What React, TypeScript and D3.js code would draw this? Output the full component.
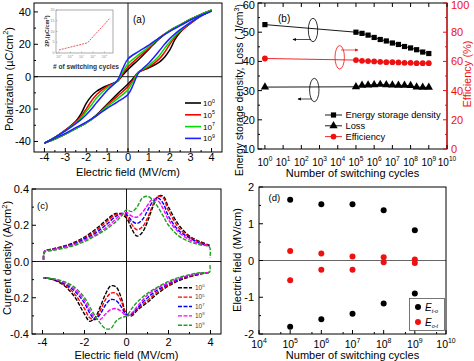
import React from "react";
import * as d3 from "d3";

const FONT = "'Liberation Sans', Arial, Helvetica, sans-serif";

// ================= Panel (a): P-E loops =================
const aTickX = [-4, -3, -2, -1, 0, 1, 2, 3, 4];
const aMinorX = [-3.5, -2.5, -1.5, -0.5, 0.5, 1.5, 2.5, 3.5];
const aTickY = [-40, -20, 0, 20, 40];
const aMinorY = [-30, -10, 10, 30];
const loopExp = ["0", "5", "7", "9"];
const loopColor = ["#000000", "#ff0000", "#00dd00", "#2020ff"];
const riseE = [-4, -3.5, -3, -2.5, -2, -1.5, -1, -0.5, 0, 0.25, 0.5, 1, 1.5, 1.75, 2, 2.25, 2.5, 3, 3.5, 4];
const fallE = [4, 3.5, 3, 2.5, 2, 1.5, 1, 0.5, 0, -0.25, -0.5, -1, -1.5, -1.75, -2, -2.25, -2.5, -3, -3.5, -4];
const riseP0 = [-41, -38.5, -35.5, -32, -28.5, -23.5, -17, -10.5, -4.5, -1, 2.7, 5.5, 9, 12, 16.5, 23, 27.5, 33, 37.5, 41];
const riseP5 = [-41, -38.5, -35.5, -32, -28.5, -24, -17.5, -12, -6, -2, 2.8, 6, 11, 15, 20, 24.5, 28, 33, 37.5, 41];
const riseP7 = [-41, -38.5, -35.5, -32, -28.5, -24, -18.5, -13.5, -8, -3, 2.7, 7, 13, 17.5, 21.5, 25.5, 28.5, 33.5, 37.5, 41];
const riseP9 = [-41, -38, -35, -31.5, -28, -24, -19.5, -15.5, -11, -5, 2.2, 8.5, 16, 20, 23.5, 26.5, 29, 33.5, 37.5, 40.5];
const fallP0 = [41, 38.5, 35.5, 32, 28.5, 23.5, 17, 10.5, 4.5, 1, -2.7, -5.5, -9, -12, -16.5, -23, -27.5, -33, -37.5, -41];
const fallP5 = [41, 38.5, 35.5, 32, 28.5, 24, 17.5, 12, 6, 2, -2.8, -6, -11, -15, -20, -24.5, -28, -33, -37.5, -41];
const fallP7 = [41, 38.5, 35.5, 32, 28.5, 24, 18.5, 13.5, 8, 3, -2.7, -7, -13, -17.5, -21.5, -25.5, -28.5, -33.5, -37.5, -41];
const fallP9 = [40.5, 38, 35, 31.5, 28, 24, 19.5, 15.5, 11, 5, -2.2, -8.5, -16, -20, -23.5, -26.5, -29, -33.5, -37.5, -41];
const riseAll = [riseP0, riseP5, riseP7, riseP9];
const fallAll = [fallP0, fallP5, fallP7, fallP9];

// inset
const insetCycles = [1, 1e5, 1e6, 1e7, 1e8, 1e9];
const inset2Pr = [1.4, 4.7, 7.6, 10.5, 13.4, 16.3];
const insetTickX = [1, 1e2, 1e4, 1e6, 1e8];
const insetTickXLab = ["0", "2", "4", "6", "8"];
const insetTickY = [0, 5, 10, 15, 20];

// ================= Panel (b) =================
const bCycles = [1, 1e5, 2.15e5, 4.64e5, 1e6, 2.15e6, 4.64e6, 1e7, 2.15e7, 4.64e7, 1e8, 2.15e8, 4.64e8, 1e9];
const bEnergy = [52.6, 50.0, 49.6, 49.0, 48.2, 47.5, 47.0, 46.3, 45.8, 45.1, 44.6, 44.0, 43.2, 42.7];
const bLoss = [31.2, 31.3, 31.8, 31.9, 32.0, 32.1, 32.0, 31.9, 31.8, 31.8, 31.7, 31.2, 31.1, 31.1];
const bEff = [62.0, 60.9, 60.4, 60.2, 60.0, 59.7, 59.5, 59.5, 59.3, 59.0, 59.0, 58.8, 58.8, 58.8];
const bDecades = [0, 1, 2, 3, 4, 5, 6, 7, 8, 9, 10];
const bTickY = [10, 20, 30, 40, 50, 60];
const bMinorY = [15, 25, 35, 45, 55];
const bTickY2 = [0, 20, 40, 60, 80, 100];
const bMinorY2 = [10, 30, 50, 70, 90];
const bLegend = ["Energy storage density", "Loss", "Efficiency"];

// ================= Panel (c) =================
const cExp = ["0", "5", "7", "8", "9"];
const cColor = ["#000000", "#ff0000", "#0000ff", "#ff00ff", "#1e9e1e"];
const cRiseE = [-3.95, -3.9, -3.5, -3, -2.5, -2, -1.5, -1, -0.5, -0.25, 0, 0.25, 0.5, 0.75, 1, 1.25, 1.5, 1.75, 2, 2.5, 3, 3.5, 3.95];
const cRiseEGreen = [-3.95, -3.9, -3.5, -3, -2.5, -2, -1.5, -1, -0.5, -0.25, 0, 0.25, 0.5, 0.75, 1, 1.25, 1.5, 1.75, 2, 2.5, 3, 3.5, 3.95, 3.97];
const cRise0 = [0.01, 0.055, 0.07, 0.085, 0.105, 0.135, 0.175, 0.225, 0.265, 0.26, 0.24, 0.18, 0.14, 0.16, 0.22, 0.3, 0.36, 0.36, 0.3, 0.2, 0.14, 0.11, 0.09];
const cRise5 = [0.01, 0.055, 0.068, 0.083, 0.1, 0.13, 0.165, 0.215, 0.26, 0.265, 0.25, 0.205, 0.175, 0.19, 0.24, 0.31, 0.36, 0.35, 0.28, 0.185, 0.135, 0.105, 0.088];
const cRise7 = [0.01, 0.055, 0.067, 0.08, 0.097, 0.125, 0.155, 0.2, 0.25, 0.265, 0.26, 0.225, 0.21, 0.23, 0.28, 0.33, 0.35, 0.32, 0.25, 0.17, 0.13, 0.1, 0.087];
const cRise8 = [0.01, 0.055, 0.065, 0.077, 0.093, 0.118, 0.145, 0.185, 0.235, 0.26, 0.27, 0.25, 0.245, 0.27, 0.31, 0.345, 0.335, 0.29, 0.23, 0.16, 0.12, 0.098, 0.086];
const cRise9 = [0.01, 0.05, 0.062, 0.073, 0.088, 0.11, 0.14, 0.175, 0.22, 0.25, 0.285, 0.275, 0.3, 0.35, 0.36, 0.34, 0.3, 0.25, 0.2, 0.14, 0.11, 0.092, 0.08, 0.02];
const cFallE = [3.95, 3.5, 3, 2.5, 2, 1.5, 1, 0.5, 0.25, 0, -0.25, -0.5, -0.75, -1, -1.25, -1.5, -1.75, -2, -2.5, -3, -3.5, -3.95];
const cFallEGreen = [3.97, 3.95, 3.5, 3, 2.5, 2, 1.5, 1, 0.5, 0.25, 0, -0.25, -0.5, -0.75, -1, -1.25, -1.5, -1.75, -2, -2.5, -3, -3.5, -3.95];
const cFall0 = [-0.06, -0.07, -0.085, -0.105, -0.135, -0.175, -0.225, -0.27, -0.3, -0.29, -0.2, -0.14, -0.135, -0.18, -0.25, -0.31, -0.33, -0.29, -0.19, -0.13, -0.1, -0.09];
const cFall5 = [-0.06, -0.068, -0.083, -0.1, -0.13, -0.165, -0.215, -0.265, -0.295, -0.29, -0.22, -0.175, -0.175, -0.21, -0.27, -0.32, -0.31, -0.26, -0.175, -0.125, -0.1, -0.09];
const cFall7 = [-0.06, -0.067, -0.08, -0.097, -0.125, -0.155, -0.2, -0.26, -0.29, -0.295, -0.25, -0.215, -0.21, -0.24, -0.29, -0.32, -0.285, -0.23, -0.16, -0.12, -0.098, -0.09];
const cFall8 = [-0.06, -0.065, -0.077, -0.093, -0.118, -0.145, -0.185, -0.25, -0.285, -0.3, -0.275, -0.26, -0.265, -0.29, -0.32, -0.31, -0.27, -0.215, -0.15, -0.115, -0.096, -0.09];
const cFall9 = [-0.02, -0.06, -0.062, -0.073, -0.088, -0.11, -0.14, -0.175, -0.225, -0.26, -0.3, -0.31, -0.33, -0.37, -0.37, -0.34, -0.3, -0.25, -0.2, -0.14, -0.11, -0.095, -0.09];
const cRiseAll = [cRise0, cRise5, cRise7, cRise8, cRise9];
const cFallAll = [cFall0, cFall5, cFall7, cFall8, cFall9];
const cTickX = [-4, -2, 0, 2, 4];
const cMinorX = [-3, -1, 1, 3];
const cTickY = [-0.4, -0.2, 0, 0.2, 0.4];
const cTickYLab = ["-0.4", "-0.2", "0.0", "0.2", "0.4"];
const cMinorY = [-0.3, -0.1, 0.1, 0.3];

// ================= Panel (d) =================
const dCycles = [1e5, 1e6, 1e7, 1e8, 1e9];
const dEtoPos = [1.65, 1.53, 1.53, 1.37, 0.82];
const dEtoNeg = [-1.8, -1.6, -1.45, -1.17, -0.9];
const dEotPos = [0.26, 0.19, 0.11, 0.09, 0.03];
const dEotNeg = [-0.54, -0.25, -0.25, -0.05, -0.07];
const dDecades = [4, 5, 6, 7, 8, 9, 10];
const dTickY = [-2, -1, 0, 1, 2];
const dMinorY = [-1.5, -0.5, 0.5, 1.5];

const RED = "#ee1111";

function zip(a: number[], b: number[]): [number, number][] {
  return a.map((v, i) => [v, b[i]] as [number, number]);
}

export default function App() {
  const xA = d3.scaleLinear().domain([-4.5, 4.5]).range([34, 222]);
  const yA = d3.scaleLinear().domain([-46.5, 45.5]).range([152, 3]);
  const xIn = d3.scaleLog().domain([Math.pow(10, -0.5), Math.pow(10, 9.5)]).range([56, 113]);
  const yIn = d3.scaleLinear().domain([0, 20]).range([53, 10]);
  const xB = d3.scaleLog().domain([Math.pow(10, -0.38), 1e10]).range([258, 447]);
  const yB = d3.scaleLinear().domain([10, 60]).range([149, 3]);
  const yB2 = d3.scaleLinear().domain([0, 100]).range([149, 3]);
  const xC = d3.scaleLinear().domain([-4.5, 4.5]).range([32, 221]);
  const yC = d3.scaleLinear().domain([-0.4, 0.4]).range([334, 189]);
  const xD = d3.scaleLog().domain([1e4, 1e10]).range([259, 446]);
  const yD = d3.scaleLinear().domain([-2, 2]).range([334, 187]);

  const lineA = d3.line<[number, number]>().x(d => xA(d[0])).y(d => yA(d[1])).curve(d3.curveCatmullRom.alpha(0.5));
  const lineIn = d3.line<[number, number]>().x(d => xIn(d[0])).y(d => yIn(d[1]));
  const lineB = d3.line<[number, number]>().x(d => xB(d[0])).y(d => yB(d[1]));
  const lineB2 = d3.line<[number, number]>().x(d => xB(d[0])).y(d => yB2(d[1]));
  const lineC = d3.line<[number, number]>().x(d => xC(d[0])).y(d => yC(d[1])).curve(d3.curveCatmullRom.alpha(0.5));
  const tri = d3.symbol().type(d3.symbolTriangle).size(30)() || "";

  const fs = 11;
  const sup = (base: string, e: string, size = fs, x?: number, y?: number, anchor = "middle", fill = "#000") => (
    <text x={x} y={y} textAnchor={anchor} fontSize={size} fill={fill}>
      {base}
      <tspan dy={-size * 0.42} fontSize={size * 0.66}>{e}</tspan>
    </text>
  );

  const A = { l: 34, r: 222, t: 3, b: 152 };
  const B = { l: 258, r: 447, t: 3, b: 149 };
  const C = { l: 32, r: 221, t: 189, b: 334 };
  const D = { l: 259, r: 446, t: 187, b: 334 };
  const maj = 4, mnr = 2;

  return (
    <svg width={474} height={361} style={{ position: "absolute", left: 0, top: 0, display: "block" }} fontFamily={FONT}>
      <defs>
        <marker id="arrK" viewBox="0 0 6 6" refX="5" refY="3" markerWidth="5" markerHeight="5" orient="auto">
          <path d="M0,0.5 L6,3 L0,5.5 Z" fill="#000" />
        </marker>
        <marker id="arrR" viewBox="0 0 6 6" refX="5" refY="3" markerWidth="5" markerHeight="5" orient="auto">
          <path d="M0,0.5 L6,3 L0,5.5 Z" fill={RED} />
        </marker>
      </defs>
      <rect x={0} y={0} width={474} height={361} fill="#fff" />

      {/* ================= Panel (a) ================= */}
      <g>
        <line x1={A.l} x2={A.r} y1={yA(0)} y2={yA(0)} stroke="#000" strokeWidth={0.9} />
        <line x1={xA(0)} x2={xA(0)} y1={A.t} y2={A.b} stroke="#000" strokeWidth={0.9} />
        {riseAll.map((p, i) => (
          <path key={"ra" + i} d={lineA(zip(riseE, p)) || ""} fill="none" stroke={loopColor[i]} strokeWidth={1.5} />
        ))}
        {fallAll.map((p, i) => (
          <path key={"fa" + i} d={lineA(zip(fallE, p)) || ""} fill="none" stroke={loopColor[i]} strokeWidth={1.5} />
        ))}
        <rect x={A.l} y={A.t} width={A.r - A.l} height={A.b - A.t} fill="none" stroke="#000" strokeWidth={1} />
        {aTickX.map(v => <line key={"atx" + v} x1={xA(v)} x2={xA(v)} y1={A.b} y2={A.b - maj} stroke="#000" />)}
        {aMinorX.map(v => <line key={"amx" + v} x1={xA(v)} x2={xA(v)} y1={A.b} y2={A.b - mnr} stroke="#000" />)}
        {aTickY.map(v => <line key={"aty" + v} x1={A.l} x2={A.l + maj} y1={yA(v)} y2={yA(v)} stroke="#000" />)}
        {aMinorY.map(v => <line key={"amy" + v} x1={A.l} x2={A.l + mnr} y1={yA(v)} y2={yA(v)} stroke="#000" />)}
        {aTickX.map(v => <text key={"atl" + v} x={xA(v)} y={161} textAnchor="middle" fontSize={fs}>{String(v)}</text>)}
        {aTickY.map(v => <text key={"ayl" + v} x={31} y={yA(v) + 4} textAnchor="end" fontSize={fs}>{String(v)}</text>)}
        <text x={(A.l + A.r) / 2} y={175.5} textAnchor="middle" fontSize={fs}>Electric field (MV/cm)</text>
        <text transform={`translate(12.5, 79) rotate(-90)`} textAnchor="middle" fontSize={fs}>
          Polarization (µC/cm<tspan dy={-4.5} fontSize={7.5}>2</tspan><tspan dy={4.5}>)</tspan>
        </text>
        <text x={133} y={23} fontSize={10}>(a)</text>
        {loopExp.map((e, i) => (
          <g key={"la" + i}>
            <line x1={185} x2={201} y1={103 + i * 11.8} y2={103 + i * 11.8} stroke={loopColor[i]} strokeWidth={1.6} />
            {sup("10", e, 8, 203, 106 + i * 11.8, "start")}
          </g>
        ))}
        {/* inset */}
        <rect x={56} y={10} width={57} height={43} fill="#fff" stroke="#888" strokeWidth={0.7} />
        <path d={lineIn(zip(insetCycles, inset2Pr)) || ""} fill="none" stroke="#e03030" strokeWidth={0.8} strokeDasharray="2 1" />
        {insetTickX.map((v, i) => (
          <g key={"itx" + i}>
            <line x1={xIn(v)} x2={xIn(v)} y1={53} y2={51.5} stroke="#888" strokeWidth={0.5} />
            <text x={xIn(v)} y={57.5} textAnchor="middle" fontSize={3.5} fill="#888">10<tspan dy={-1.5} fontSize={2.5}>{insetTickXLab[i]}</tspan></text>
          </g>
        ))}
        {insetTickY.map(v => (
          <g key={"ity" + v}>
            <line x1={56} x2={57.5} y1={yIn(v)} y2={yIn(v)} stroke="#888" strokeWidth={0.5} />
            <text x={54.5} y={yIn(v) + 1.2} textAnchor="end" fontSize={3.5} fill="#888">{String(v)}</text>
          </g>
        ))}
        <text x={86} y={68.5} textAnchor="middle" fontSize={6.6} fontWeight="bold" fill="#333"># of switching cycles</text>
        <text transform={`translate(48.5, 31) rotate(-90)`} textAnchor="middle" fontSize={5.6} fontWeight="bold" fill="#333">
          2P<tspan dy={1.5} fontSize={4}>r</tspan><tspan dy={-1.5}>(µC/cm</tspan><tspan dy={-2} fontSize={4}>2</tspan><tspan dy={2}>)</tspan>
        </text>
      </g>

      {/* ================= Panel (b) ================= */}
      <g>
        <path d={lineB(zip(bCycles, bEnergy)) || ""} fill="none" stroke="#000" strokeWidth={0.9} />
        <path d={lineB(zip(bCycles, bLoss)) || ""} fill="none" stroke="#000" strokeWidth={0.9} />
        <path d={lineB2(zip(bCycles, bEff)) || ""} fill="none" stroke={RED} strokeWidth={0.9} />
        {bCycles.map((c, i) => (
          <rect key={"bs" + i} x={xB(c) - 2.6} y={yB(bEnergy[i]) - 2.6} width={5.2} height={5.2} fill="#000" />
        ))}
        {bCycles.map((c, i) => (
          <path key={"bt" + i} d={tri} transform={`translate(${xB(c)},${yB(bLoss[i])})`} fill="#000" />
        ))}
        {bCycles.map((c, i) => (
          <circle key={"bc" + i} cx={xB(c)} cy={yB2(bEff[i])} r={2.9} fill={RED} />
        ))}
        <rect x={B.l} y={B.t} width={B.r - B.l} height={B.b - B.t} fill="none" stroke="#000" strokeWidth={1} />
        <line x1={B.r} x2={B.r} y1={B.t} y2={B.b} stroke={RED} strokeWidth={1.2} />
        {bDecades.map(d => (
          <g key={"bd" + d}>
            <line x1={xB(Math.pow(10, d))} x2={xB(Math.pow(10, d))} y1={B.b} y2={B.b - maj} stroke="#000" />
            <line x1={xB(Math.pow(10, d))} x2={xB(Math.pow(10, d))} y1={B.t} y2={B.t + maj} stroke="#000" />
            {sup("10", String(d), 10, xB(Math.pow(10, d)), 165.5, "middle")}
          </g>
        ))}
        {bTickY.map(v => (
          <g key={"bty" + v}>
            <line x1={B.l} x2={B.l + maj} y1={yB(v)} y2={yB(v)} stroke="#000" />
            <text x={255} y={Math.max(yB(v) + 4, 9)} textAnchor="end" fontSize={fs}>{String(v)}</text>
          </g>
        ))}
        {bMinorY.map(v => <line key={"bmy" + v} x1={B.l} x2={B.l + mnr} y1={yB(v)} y2={yB(v)} stroke="#000" />)}
        {bTickY2.map(v => (
          <g key={"bty2" + v}>
            <line x1={B.r} x2={B.r - maj} y1={yB2(v)} y2={yB2(v)} stroke={RED} />
            <text x={451} y={Math.max(yB2(v) + 4, 9)} textAnchor="start" fontSize={fs} fill={RED}>{String(v)}</text>
          </g>
        ))}
        {bMinorY2.map(v => <line key={"bmy2" + v} x1={B.r} x2={B.r - mnr} y1={yB2(v)} y2={yB2(v)} stroke={RED} />)}
        <text x={(B.l + B.r) / 2} y={177} textAnchor="middle" fontSize={fs}>Number of switching cycles</text>
        <text transform={`translate(243, 90) rotate(-90)`} textAnchor="middle" fontSize={10.4}>
          Energy storage density, Loss ( J/cm<tspan dy={-4.2} fontSize={7}>3</tspan><tspan dy={4.2}>)</tspan>
        </text>
        <text transform={`translate(471, 74) rotate(-90)`} textAnchor="middle" fontSize={fs} fill={RED}>Efficiency (%)</text>
        <text x={278} y={22} fontSize={10}>(b)</text>
        <ellipse cx={313} cy={30} rx={4.7} ry={11.7} fill="none" stroke="#000" strokeWidth={0.8} />
        <line x1={311} x2={293} y1={39.5} y2={39.5} stroke="#000" strokeWidth={0.7} markerEnd="url(#arrK)" />
        <ellipse cx={339.7} cy={57.3} rx={4.7} ry={11.7} fill="none" stroke={RED} strokeWidth={0.8} />
        <line x1={341} x2={358} y1={50} y2={50} stroke={RED} strokeWidth={0.7} markerEnd="url(#arrR)" />
        <ellipse cx={314.3} cy={90} rx={4.7} ry={11.7} fill="none" stroke="#000" strokeWidth={0.8} />
        <line x1={312} x2={298} y1={99} y2={99} stroke="#000" strokeWidth={0.7} markerEnd="url(#arrK)" />
        {bLegend.map((t, i) => {
          const y = 115 + i * 10.8;
          const col = i === 2 ? RED : "#000";
          return (
            <g key={"lb" + i}>
              <line x1={325} x2={342} y1={y} y2={y} stroke={col} strokeWidth={0.9} />
              {i === 0 && <rect x={333.5 - 2.6} y={y - 2.6} width={5.2} height={5.2} fill="#000" />}
              {i === 1 && <path d={tri} transform={`translate(333.5,${y})`} fill="#000" />}
              {i === 2 && <circle cx={333.5} cy={y} r={2.9} fill={RED} />}
              <text x={345.5} y={y + 3.4} fontSize={9.3}>{t}</text>
            </g>
          );
        })}
      </g>

      {/* ================= Panel (c) ================= */}
      <g>
        <line x1={C.l} x2={C.r} y1={yC(0)} y2={yC(0)} stroke="#000" strokeWidth={0.9} />
        <line x1={xC(0)} x2={xC(0)} y1={C.t} y2={C.b} stroke="#000" strokeWidth={0.9} />
        {cRiseAll.map((p, i) => (
          <path key={"rc" + i} d={lineC(zip(i === 4 ? cRiseEGreen : cRiseE, p)) || ""} fill="none" stroke={cColor[i]} strokeWidth={1.4} strokeDasharray="4 1.5" />
        ))}
        {cFallAll.map((p, i) => (
          <path key={"fc" + i} d={lineC(zip(i === 4 ? cFallEGreen : cFallE, p)) || ""} fill="none" stroke={cColor[i]} strokeWidth={1.4} strokeDasharray="4 1.5" />
        ))}
        <rect x={C.l} y={C.t} width={C.r - C.l} height={C.b - C.t} fill="none" stroke="#000" strokeWidth={1} />
        {cTickX.map(v => <line key={"ctx" + v} x1={xC(v)} x2={xC(v)} y1={C.b} y2={C.b - maj} stroke="#000" />)}
        {cMinorX.map(v => <line key={"cmx" + v} x1={xC(v)} x2={xC(v)} y1={C.b} y2={C.b - mnr} stroke="#000" />)}
        {cTickY.map(v => <line key={"cty" + v} x1={C.l} x2={C.l + maj} y1={yC(v)} y2={yC(v)} stroke="#000" />)}
        {cMinorY.map(v => <line key={"cmy" + v} x1={C.l} x2={C.l + mnr} y1={yC(v)} y2={yC(v)} stroke="#000" />)}
        {cTickX.map(v => <text key={"ctl" + v} x={xC(v)} y={345.5} textAnchor="middle" fontSize={fs}>{String(v)}</text>)}
        {cTickY.map((v, i) => <text key={"cyl" + v} x={29} y={yC(v) + 4} textAnchor="end" fontSize={fs}>{cTickYLab[i]}</text>)}
        <text x={(C.l + C.r) / 2} y={358.5} textAnchor="middle" fontSize={fs}>Electric field (MV/cm)</text>
        <text transform={`translate(11, 258) rotate(-90)`} textAnchor="middle" fontSize={fs}>
          Current density (A/cm<tspan dy={-4.5} fontSize={7.5}>2</tspan><tspan dy={4.5}>)</tspan>
        </text>
        <text x={37} y={209} fontSize={9.5}>(c)</text>
        {cExp.map((e, i) => (
          <g key={"lc" + i}>
            <line x1={178} x2={192} y1={287.7 + i * 9.4} y2={287.7 + i * 9.4} stroke={cColor[i]} strokeWidth={1.4} strokeDasharray="4 1.5" />
            {sup("10", e, 6.5, 195, 290 + i * 9.4, "start", "#444")}
          </g>
        ))}
      </g>

      {/* ================= Panel (d) ================= */}
      <g>
        <line x1={D.l} x2={D.r} y1={yD(0)} y2={yD(0)} stroke="#666" strokeWidth={1.2} />
        {dCycles.map((c, i) => (
          <g key={"dp" + i}>
            <circle cx={xD(c)} cy={yD(dEtoPos[i])} r={3} fill="#000" />
            <circle cx={xD(c)} cy={yD(dEtoNeg[i])} r={3} fill="#000" />
            <circle cx={xD(c)} cy={yD(dEotPos[i])} r={3} fill={RED} />
            <circle cx={xD(c)} cy={yD(dEotNeg[i])} r={3} fill={RED} />
          </g>
        ))}
        <rect x={D.l} y={D.t} width={D.r - D.l} height={D.b - D.t} fill="none" stroke="#000" strokeWidth={1} />
        {dDecades.map(d => (
          <g key={"dd" + d}>
            <line x1={xD(Math.pow(10, d))} x2={xD(Math.pow(10, d))} y1={D.b} y2={D.b - maj} stroke="#000" />
            {d < 10 && <line x1={xD(5 * Math.pow(10, d))} x2={xD(5 * Math.pow(10, d))} y1={D.b} y2={D.b - mnr} stroke="#000" />}
            {sup("10", String(d), 10.5, xD(Math.pow(10, d)), 347.5, "middle")}
          </g>
        ))}
        {dTickY.map(v => (
          <g key={"dty" + v}>
            <line x1={D.l} x2={D.l + maj} y1={yD(v)} y2={yD(v)} stroke="#000" />
            <text x={254} y={yD(v) + 4} textAnchor="end" fontSize={fs}>{String(v)}</text>
          </g>
        ))}
        {dMinorY.map(v => <line key={"dmy" + v} x1={D.l} x2={D.l + mnr} y1={yD(v)} y2={yD(v)} stroke="#000" />)}
        <text x={(D.l + D.r) / 2} y={359} textAnchor="middle" fontSize={fs}>Number of switching cycles</text>
        <text transform={`translate(241, 260) rotate(-90)`} textAnchor="middle" fontSize={fs}>Electric field (MV/cm)</text>
        <text x={268.5} y={200.5} fontSize={9.5}>(d)</text>
        <rect x={409.5} y={298.5} width={35} height={32} fill="#fff" stroke="#555" strokeWidth={0.8} />
        <circle cx={418} cy={307} r={3} fill="#000" />
        <text x={425} y={311} fontSize={10} fontStyle="italic">E<tspan dy={2} fontSize={5.5}>t-o</tspan></text>
        <circle cx={418} cy={322} r={3} fill={RED} />
        <text x={425} y={326} fontSize={10} fontStyle="italic">E<tspan dy={2} fontSize={5.5}>o-t</tspan></text>
      </g>
    </svg>
  );
}
